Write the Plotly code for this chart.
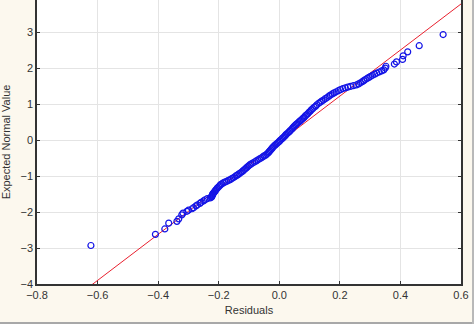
import plotly.graph_objects as go

# Residuals (x) and expected normal values (y)
residuals = [
    -0.622, -0.409, -0.378, -0.365, -0.338, -0.332, -0.322, -0.318, -0.305, -0.300,
    -0.288, -0.283, -0.275, -0.270, -0.262, -0.258, -0.250, -0.245, -0.238, -0.228,
    -0.224, -0.223, -0.222, -0.221, -0.220, -0.219, -0.217, -0.214, -0.212, -0.210,
    -0.207, -0.204, -0.200, -0.197, -0.194, -0.190, -0.185, -0.180, -0.174, -0.168,
    -0.162, -0.157, -0.152, -0.147, -0.142, -0.138, -0.133, -0.128, -0.123, -0.119,
    -0.115, -0.111, -0.107, -0.103, -0.099, -0.094, -0.088, -0.082, -0.076, -0.070,
    -0.065, -0.060, -0.055, -0.050, -0.045, -0.041, -0.037, -0.034, -0.031, -0.028,
    -0.025, -0.022, -0.019, -0.015, -0.011, -0.007, -0.003, 0.001, 0.004, 0.008,
    0.012, 0.016, 0.019, 0.022, 0.026, 0.030, 0.034, 0.037, 0.041, 0.044,
    0.047, 0.050, 0.054, 0.058, 0.062, 0.066, 0.070, 0.074, 0.078, 0.082,
    0.086, 0.090, 0.094, 0.098, 0.102, 0.106, 0.110, 0.115, 0.120, 0.124,
    0.130, 0.135, 0.140, 0.146, 0.152, 0.158, 0.164, 0.169, 0.175, 0.181,
    0.188, 0.195, 0.202, 0.210, 0.218, 0.226, 0.235, 0.245, 0.255, 0.262,
    0.268, 0.274, 0.279, 0.284, 0.290, 0.296, 0.302, 0.308, 0.315, 0.322,
    0.330, 0.338, 0.345, 0.350, 0.352, 0.380, 0.387, 0.407, 0.409, 0.424,
    0.462, 0.541,
]
expected = [
    -2.93, -2.62, -2.47, -2.31, -2.26, -2.19, -2.08, -2.03, -1.98, -1.95,
    -1.91, -1.88, -1.83, -1.80, -1.76, -1.73, -1.69, -1.66, -1.63, -1.61,
    -1.59, -1.57, -1.55, -1.53, -1.51, -1.49, -1.47, -1.44, -1.42, -1.39,
    -1.36, -1.33, -1.30, -1.27, -1.24, -1.22, -1.19, -1.17, -1.15, -1.12,
    -1.10, -1.07, -1.05, -1.02, -0.99, -0.97, -0.94, -0.91, -0.88, -0.85,
    -0.82, -0.79, -0.76, -0.73, -0.70, -0.67, -0.64, -0.61, -0.58, -0.55,
    -0.52, -0.50, -0.47, -0.44, -0.42, -0.39, -0.36, -0.33, -0.30, -0.27,
    -0.24, -0.21, -0.18, -0.15, -0.12, -0.09, -0.06, -0.03, 0.00, 0.03,
    0.06, 0.09, 0.12, 0.15, 0.18, 0.21, 0.24, 0.27, 0.30, 0.33,
    0.36, 0.39, 0.42, 0.45, 0.48, 0.51, 0.54, 0.57, 0.60, 0.63,
    0.67, 0.70, 0.73, 0.77, 0.80, 0.84, 0.87, 0.91, 0.94, 0.98,
    1.02, 1.05, 1.08, 1.11, 1.15, 1.18, 1.22, 1.25, 1.28, 1.31,
    1.34, 1.37, 1.40, 1.43, 1.45, 1.47, 1.49, 1.51, 1.53, 1.56,
    1.59, 1.62, 1.65, 1.68, 1.71, 1.74, 1.77, 1.80, 1.83, 1.86,
    1.89, 1.92, 1.95, 2.00, 2.05, 2.11, 2.17, 2.24, 2.34, 2.45,
    2.62, 2.93,
]

# Reference line y = slope * x + intercept, drawn across the x range
line_slope = 6.40
line_intercept = -0.06
line_x = [-0.8, 0.6]
line_y = [line_slope * v + line_intercept for v in line_x]

x_ticks = [-0.8, -0.6, -0.4, -0.2, 0.0, 0.2, 0.4, 0.6]
y_ticks = [-4, -3, -2, -1, 0, 1, 2, 3]

fig = go.Figure()
fig.add_trace(go.Scatter(
    x=line_x, y=line_y, mode="lines",
    line=dict(color="#E8202E", width=1), showlegend=False,
))
fig.add_trace(go.Scatter(
    x=residuals, y=expected, mode="markers",
    marker=dict(symbol="circle-open", size=6, color="#1414E6", line=dict(width=1.2)),
    showlegend=False,
))

font = dict(family="Liberation Sans, Arial, sans-serif", size=11, color="#333333")

fig.update_layout(
    width=474, height=324,
    margin=dict(l=37, r=13, t=0, b=40),
    paper_bgcolor="#FCF8EE",
    plot_bgcolor="#FFFFFF",
    font=font,
    xaxis=dict(
        range=[-0.8, 0.6], tickvals=x_ticks, tickformat=".1f",
        showgrid=True, gridcolor="#E4E4E4", gridwidth=1,
        zeroline=False, showline=True, linecolor="#333333", linewidth=1.5,
        ticks="inside", ticklen=3, tickcolor="#333333",
        title=dict(text="Residuals", font=font, standoff=6),
    ),
    yaxis=dict(
        range=[-4, 3.89], tickvals=y_ticks,
        showgrid=True, gridcolor="#E4E4E4", gridwidth=1,
        zeroline=False, showline=True, linecolor="#333333", linewidth=1.5,
        mirror="ticks",
        ticks="inside", ticklen=3, tickcolor="#333333",
        title=dict(text="Expected Normal Value", font=font, standoff=8),
    ),
    shapes=[
        dict(type="rect", xref="paper", yref="paper", x0=-0.1, x1=1.1, y0=-0.15, y1=-0.134,
             fillcolor="#A8A8A8", line=dict(width=0), layer="above"),
        dict(type="rect", xref="paper", yref="paper", x0=1.026, x1=1.04, y0=-0.15, y1=1.0,
             fillcolor="#B8B8B8", line=dict(width=0), layer="above"),
    ],
)

fig.write_html("out.html")
